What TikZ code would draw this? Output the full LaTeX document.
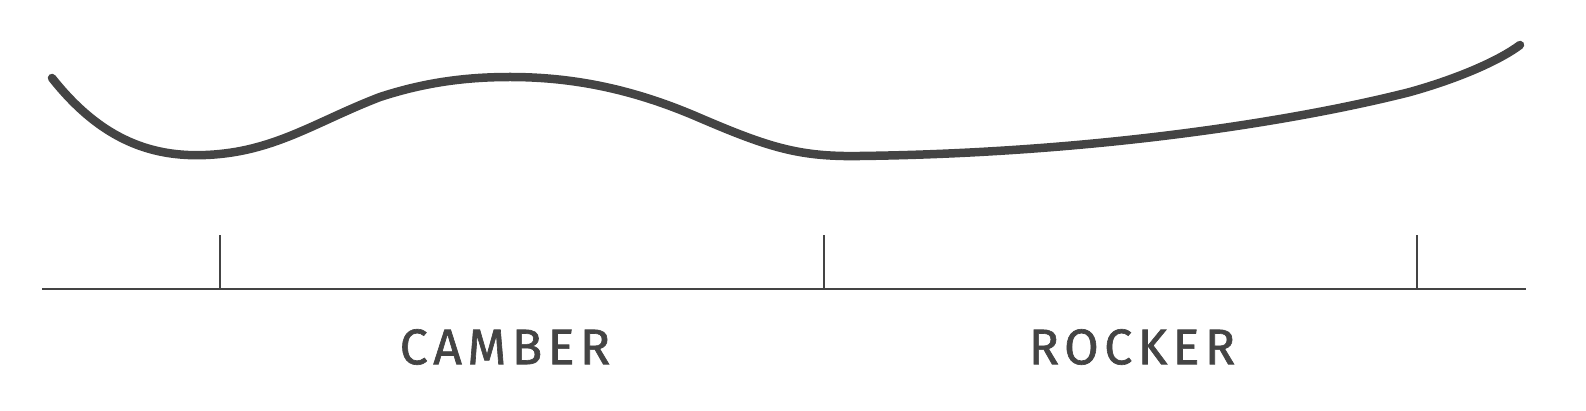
\documentclass[tikz,border=0pt]{standalone}
\usepackage{fontspec}
\setsansfont{Fira Sans}[FakeBold=1.3]
\definecolor{boardgray}{HTML}{444444}
\begin{document}
\begin{tikzpicture}[x=1pt,y=-1pt, board/.style={line width=8.5pt,line cap=round,boardgray}, axis/.style={line width=1.3pt,boardgray}, zone/.style={inner sep=0pt,text=boardgray,font=\sffamily\fontsize{50}{60}\selectfont\addfontfeature{LetterSpace=11}}]
      \useasboundingbox (0,0) rectangle (1586,411);
      % board profile
      \draw[board] (52,78) .. controls (105,145) and (160,160) .. (220,154)
        .. controls (280,148) and (320,120) .. (380,97)
        .. controls (420,84) and (460,77) .. (510,77)
        .. controls (580,77) and (640,92) .. (700,118)
        .. controls (770,148) and (800,157) .. (860,156)
        .. controls (1100,153) and (1300,120) .. (1410,92)
        .. controls (1460,78) and (1500,60) .. (1520,45);
      
      \coordinate (l) at (42,289);
      \coordinate (r) at (1526,289);
      \draw[axis] (l) -- (r);
      \draw[axis] (220,289) -- (220,235);
      \draw[axis] (824,289) -- (824,235);
      \draw[axis] (1417,289) -- (1417,235);
      
      \node[zone] (camber) at (505,347) {CAMBER};
      \node[zone] (rocker) at (1132,347) {ROCKER};
    \end{tikzpicture}
\end{document}
